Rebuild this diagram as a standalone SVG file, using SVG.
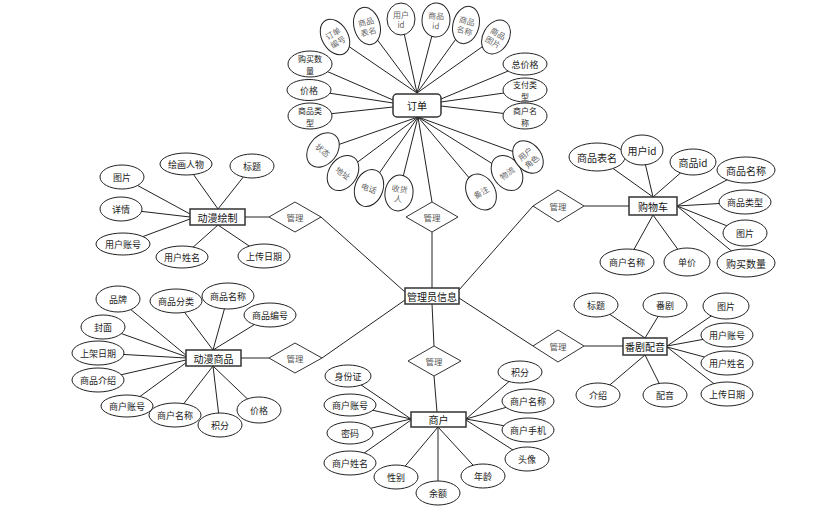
<svg xmlns="http://www.w3.org/2000/svg" width="840" height="510" viewBox="0 0 840 510">
<style>
.bg{fill:#fff}
.ln line{stroke:#222;stroke-width:1;fill:none}
ellipse{fill:#fff;stroke:#222;stroke-width:1}
.ent{fill:#fff;stroke:#333;stroke-width:1.5}
.rel{fill:#fff;stroke:#333;stroke-width:1}
text{font-family:"Noto Sans CJK SC","Liberation Sans",sans-serif;font-size:9px;fill:#222;text-anchor:middle;dominant-baseline:central}
.et{font-size:10px;fill:#111}
.rt{font-size:8.5px;fill:#555}
.st{font-size:8px;fill:#666}
.tw{font-size:8px}
.big{font-size:10px}
</style>
<rect class="bg" x="0" y="0" width="840" height="510"/>
<g id="connectors" class="ln">
<line x1="335" y1="37" x2="417" y2="93"/>
<line x1="367" y1="26" x2="417" y2="93"/>
<line x1="401" y1="19" x2="417" y2="93"/>
<line x1="436" y1="20" x2="417" y2="93"/>
<line x1="466" y1="25" x2="417" y2="93"/>
<line x1="496" y1="37" x2="417" y2="93"/>
<line x1="310" y1="64" x2="393" y2="100"/>
<line x1="309" y1="90" x2="393" y2="103"/>
<line x1="310" y1="116" x2="393" y2="107"/>
<line x1="525" y1="64" x2="441" y2="99"/>
<line x1="525" y1="90" x2="441" y2="102"/>
<line x1="525" y1="116" x2="441" y2="106"/>
<line x1="323" y1="150" x2="418" y2="117"/>
<line x1="343" y1="173" x2="418" y2="117"/>
<line x1="369" y1="188" x2="418" y2="117"/>
<line x1="399" y1="193" x2="418" y2="117"/>
<line x1="481" y1="192" x2="418" y2="117"/>
<line x1="507" y1="173" x2="418" y2="117"/>
<line x1="528" y1="157" x2="418" y2="117"/>
<line x1="418" y1="117" x2="432" y2="202"/>
<line x1="432" y1="232" x2="432" y2="288"/>
<line x1="321" y1="217" x2="405" y2="292"/>
<line x1="322" y1="358" x2="405" y2="300"/>
<line x1="533" y1="206" x2="459" y2="290"/>
<line x1="533" y1="346" x2="459" y2="298"/>
<line x1="432" y1="304" x2="434" y2="346"/>
<line x1="245" y1="217" x2="269" y2="217"/>
<line x1="122" y1="177" x2="190" y2="214"/>
<line x1="186" y1="164" x2="218" y2="209"/>
<line x1="252" y1="166" x2="218" y2="209"/>
<line x1="121" y1="209" x2="190" y2="217"/>
<line x1="123" y1="244" x2="190" y2="219"/>
<line x1="182" y1="257" x2="218" y2="225"/>
<line x1="264" y1="256" x2="218" y2="225"/>
<line x1="241" y1="358" x2="269" y2="358"/>
<line x1="118" y1="299" x2="187" y2="356"/>
<line x1="176" y1="301" x2="213" y2="350"/>
<line x1="228" y1="296" x2="213" y2="350"/>
<line x1="270" y1="315" x2="213" y2="350"/>
<line x1="103" y1="327" x2="187" y2="357"/>
<line x1="98" y1="353" x2="186" y2="358"/>
<line x1="98" y1="380" x2="186" y2="360"/>
<line x1="127" y1="406" x2="187" y2="362"/>
<line x1="175" y1="415" x2="213" y2="366"/>
<line x1="220" y1="425" x2="213" y2="366"/>
<line x1="259" y1="410" x2="213" y2="366"/>
<line x1="434" y1="376" x2="437" y2="412"/>
<line x1="348" y1="376" x2="411" y2="419"/>
<line x1="350" y1="405" x2="411" y2="419"/>
<line x1="350" y1="433" x2="411" y2="419"/>
<line x1="350" y1="463" x2="411" y2="420"/>
<line x1="396" y1="477" x2="438" y2="427"/>
<line x1="438" y1="493" x2="438" y2="427"/>
<line x1="483" y1="476" x2="438" y2="427"/>
<line x1="520" y1="372" x2="466" y2="419"/>
<line x1="528" y1="401" x2="466" y2="419"/>
<line x1="528" y1="430" x2="466" y2="419"/>
<line x1="527" y1="459" x2="466" y2="420"/>
<line x1="584" y1="206" x2="629" y2="206"/>
<line x1="597" y1="157" x2="653" y2="197"/>
<line x1="642" y1="150" x2="653" y2="197"/>
<line x1="693" y1="162" x2="653" y2="197"/>
<line x1="746" y1="170" x2="677" y2="206"/>
<line x1="745" y1="202" x2="677" y2="206"/>
<line x1="745" y1="233" x2="677" y2="206"/>
<line x1="746" y1="263" x2="677" y2="206"/>
<line x1="687" y1="262" x2="653" y2="215"/>
<line x1="627" y1="262" x2="653" y2="215"/>
<line x1="584" y1="346" x2="623" y2="346"/>
<line x1="596" y1="305" x2="645" y2="338"/>
<line x1="665" y1="305" x2="645" y2="338"/>
<line x1="726" y1="306" x2="667" y2="346"/>
<line x1="727" y1="335" x2="667" y2="346"/>
<line x1="727" y1="363" x2="667" y2="347"/>
<line x1="727" y1="394" x2="667" y2="347"/>
<line x1="598" y1="395" x2="645" y2="355"/>
<line x1="665" y1="395" x2="645" y2="355"/>
</g>

<g id="order">
<rect class="ent" x="393" y="94" width="48" height="23" rx="4"/>
<text class="et" x="417" y="105.5">订单</text>
</g>
<g id="order-attrs">
<g transform="translate(335,37) rotate(-30)"><ellipse rx="13" ry="19"/><text class="st"><tspan x="0" y="-5">订单</tspan><tspan x="0" y="5">编号</tspan></text></g>
<g transform="translate(367,26) rotate(-15)"><ellipse rx="13" ry="19"/><text class="st"><tspan x="0" y="-5">商品</tspan><tspan x="0" y="5">表名</tspan></text></g>
<g transform="translate(401,19)"><ellipse rx="14" ry="16"/><text class="st"><tspan x="0" y="-5">用户</tspan><tspan x="0" y="5">id</tspan></text></g>
<g transform="translate(436,20) rotate(3)"><ellipse rx="14" ry="17"/><text class="st"><tspan x="0" y="-5">商品</tspan><tspan x="0" y="5">id</tspan></text></g>
<g transform="translate(466,25) rotate(15)"><ellipse rx="13" ry="19"/><text class="st"><tspan x="0" y="-5">商品</tspan><tspan x="0" y="5">名称</tspan></text></g>
<g transform="translate(496,37) rotate(30)"><ellipse rx="13" ry="18"/><text class="st"><tspan x="0" y="-5">商品</tspan><tspan x="0" y="5">图片</tspan></text></g>
<g><ellipse cx="310" cy="64" rx="22" ry="13"/><text class="tw"><tspan x="310" y="58">购买数</tspan><tspan x="310" y="70">量</tspan></text></g>
<g><ellipse cx="309" cy="90" rx="22" ry="10.5"/><text x="309" y="90">价格</text></g>
<g><ellipse cx="310" cy="116" rx="22" ry="13"/><text class="tw"><tspan x="310" y="110">商品类</tspan><tspan x="310" y="122">型</tspan></text></g>
<g><ellipse cx="525" cy="64" rx="22" ry="11"/><text x="525" y="64">总价格</text></g>
<g><ellipse cx="525" cy="90" rx="22" ry="12"/><text class="tw"><tspan x="525" y="84">支付类</tspan><tspan x="525" y="96">型</tspan></text></g>
<g><ellipse cx="525" cy="116" rx="22" ry="13"/><text class="tw"><tspan x="525" y="110">商户名</tspan><tspan x="525" y="122">称</tspan></text></g>
<g transform="translate(323,150) rotate(40)"><ellipse rx="14" ry="19"/><text class="st">状态</text></g>
<g transform="translate(343,173) rotate(35)"><ellipse rx="14" ry="19"/><text class="st">地址</text></g>
<g transform="translate(369,188) rotate(20)"><ellipse rx="14" ry="19"/><text class="st">电话</text></g>
<g transform="translate(399,193) rotate(8)"><ellipse rx="14" ry="18"/><text class="st"><tspan x="0" y="-5">收货</tspan><tspan x="0" y="5">人</tspan></text></g>
<g transform="translate(481,192) rotate(-30)"><ellipse rx="14" ry="19"/><text class="st">备注</text></g>
<g transform="translate(507,173) rotate(-35)"><ellipse rx="14" ry="19"/><text class="st">物流</text></g>
<g transform="translate(528,157) rotate(-40)"><ellipse rx="13" ry="18"/><text class="st"><tspan x="0" y="-5">用户</tspan><tspan x="0" y="5">角色</tspan></text></g>
</g>
<g id="rel-order"><polygon class="rel" points="406,217 432,202 458,217 432,232"/><text class="rt" x="432" y="217">管理</text></g>

<g id="admin"><rect class="ent" x="405" y="288" width="54" height="16"/><text class="et" x="432" y="296.5">管理员信息</text></g>

<g id="rel-draw"><polygon class="rel" points="269,217 295,202 321,217 295,232"/><text class="rt" x="295" y="217">管理</text></g>
<g id="draw"><rect class="ent" x="190" y="209" width="55" height="16"/><text class="et" x="217.5" y="217">动漫绘制</text></g>
<g id="draw-attrs">
<g><ellipse cx="122" cy="177" rx="22" ry="12"/><text x="122" y="177">图片</text></g>
<g><ellipse cx="186" cy="164" rx="26" ry="11"/><text x="186" y="164">绘画人物</text></g>
<g><ellipse cx="252" cy="166" rx="22" ry="12"/><text x="252" y="166">标题</text></g>
<g><ellipse cx="121" cy="209" rx="21" ry="12"/><text x="121" y="209">详情</text></g>
<g><ellipse cx="123" cy="244" rx="27" ry="11"/><text x="123" y="244">用户账号</text></g>
<g><ellipse cx="182" cy="257" rx="26" ry="11"/><text x="182" y="257">用户姓名</text></g>
<g><ellipse cx="264" cy="256" rx="26" ry="12"/><text x="264" y="256">上传日期</text></g>
</g>

<g id="rel-goods"><polygon class="rel" points="269,358 295,343 322,358 295,373"/><text class="rt" x="295" y="358">管理</text></g>
<g id="goods"><rect class="ent" x="186" y="350" width="55" height="16"/><text class="et" x="213.5" y="358">动漫商品</text></g>
<g id="goods-attrs">
<g><ellipse cx="118" cy="299" rx="22" ry="13"/><text x="118" y="299">品牌</text></g>
<g><ellipse cx="176" cy="301" rx="26" ry="12"/><text x="176" y="301">商品分类</text></g>
<g><ellipse cx="228" cy="296" rx="26" ry="13"/><text x="228" y="296">商品名称</text></g>
<g><ellipse cx="270" cy="315" rx="26" ry="12"/><text x="270" y="315">商品编号</text></g>
<g><ellipse cx="103" cy="327" rx="22" ry="12"/><text x="103" y="327">封面</text></g>
<g><ellipse cx="98" cy="353" rx="26" ry="12"/><text x="98" y="353">上架日期</text></g>
<g><ellipse cx="98" cy="380" rx="26" ry="12"/><text x="98" y="380">商品介绍</text></g>
<g><ellipse cx="127" cy="406" rx="26" ry="11"/><text x="127" y="406">商户账号</text></g>
<g><ellipse cx="175" cy="415" rx="26" ry="12"/><text x="175" y="415">商户名称</text></g>
<g><ellipse cx="220" cy="425" rx="22" ry="12"/><text x="220" y="425">积分</text></g>
<g><ellipse cx="259" cy="410" rx="22" ry="13"/><text x="259" y="410">价格</text></g>
</g>

<g id="rel-merchant"><polygon class="rel" points="408,361 434,346 461,361 434,376"/><text class="rt" x="434" y="361">管理</text></g>
<g id="merchant"><rect class="ent" x="411" y="412" width="55" height="15"/><text class="et" x="438.5" y="419.5">商户</text></g>
<g id="merchant-attrs">
<g><ellipse cx="348" cy="376" rx="23" ry="11"/><text x="348" y="376">身份证</text></g>
<g><ellipse cx="350" cy="405" rx="26" ry="11"/><text x="350" y="405">商户账号</text></g>
<g><ellipse cx="350" cy="433" rx="23" ry="11"/><text x="350" y="433">密码</text></g>
<g><ellipse cx="350" cy="463" rx="26" ry="12"/><text x="350" y="463">商户姓名</text></g>
<g><ellipse cx="396" cy="477" rx="22" ry="12"/><text x="396" y="477">性别</text></g>
<g><ellipse cx="438" cy="493" rx="22" ry="12"/><text x="438" y="493">余额</text></g>
<g><ellipse cx="483" cy="476" rx="22" ry="12"/><text x="483" y="476">年龄</text></g>
<g><ellipse cx="520" cy="372" rx="22" ry="11"/><text x="520" y="372">积分</text></g>
<g><ellipse cx="528" cy="401" rx="26" ry="12"/><text x="528" y="401">商户名称</text></g>
<g><ellipse cx="528" cy="430" rx="26" ry="12"/><text x="528" y="430">商户手机</text></g>
<g><ellipse cx="527" cy="459" rx="22" ry="12"/><text x="527" y="459">头像</text></g>
</g>

<g id="rel-cart"><polygon class="rel" points="533,206 558,190 584,206 558,222"/><text class="rt" x="558" y="206">管理</text></g>
<g id="cart"><rect class="ent" x="629" y="197" width="48" height="18"/><text class="et" x="653" y="206">购物车</text></g>
<g id="cart-attrs">
<g><ellipse cx="597" cy="157" rx="28" ry="14"/><text class="big" x="597" y="157">商品表名</text></g>
<g><ellipse cx="642" cy="150" rx="21" ry="15"/><text class="big" x="642" y="150">用户id</text></g>
<g><ellipse cx="693" cy="162" rx="23" ry="13"/><text class="big" x="693" y="162">商品id</text></g>
<g><ellipse cx="746" cy="170" rx="29" ry="13"/><text class="big" x="746" y="170">商品名称</text></g>
<g><ellipse cx="745" cy="202" rx="26" ry="12"/><text x="745" y="202">商品类型</text></g>
<g><ellipse cx="745" cy="233" rx="22" ry="13"/><text x="745" y="233">图片</text></g>
<g><ellipse cx="746" cy="263" rx="29" ry="14"/><text class="big" x="746" y="263">购买数量</text></g>
<g><ellipse cx="687" cy="262" rx="23" ry="14"/><text x="687" y="262">单价</text></g>
<g><ellipse cx="627" cy="262" rx="27" ry="13"/><text x="627" y="262">商户名称</text></g>
</g>

<g id="rel-dub"><polygon class="rel" points="533,346 558,330 584,346 558,362"/><text class="rt" x="558" y="346">管理</text></g>
<g id="dub"><rect class="ent" x="623" y="338" width="44" height="17"/><text class="et" x="645" y="346.5">番剧配音</text></g>
<g id="dub-attrs">
<g><ellipse cx="596" cy="305" rx="22" ry="12"/><text x="596" y="305">标题</text></g>
<g><ellipse cx="665" cy="305" rx="22" ry="12"/><text x="665" y="305">番剧</text></g>
<g><ellipse cx="726" cy="306" rx="23" ry="13"/><text x="726" y="306">图片</text></g>
<g><ellipse cx="727" cy="335" rx="26" ry="12"/><text x="727" y="335">用户账号</text></g>
<g><ellipse cx="727" cy="363" rx="26" ry="12"/><text x="727" y="363">用户姓名</text></g>
<g><ellipse cx="727" cy="394" rx="26" ry="12"/><text x="727" y="394">上传日期</text></g>
<g><ellipse cx="598" cy="395" rx="22" ry="12"/><text x="598" y="395">介绍</text></g>
<g><ellipse cx="665" cy="395" rx="22" ry="12"/><text x="665" y="395">配音</text></g>
</g>
</svg>
